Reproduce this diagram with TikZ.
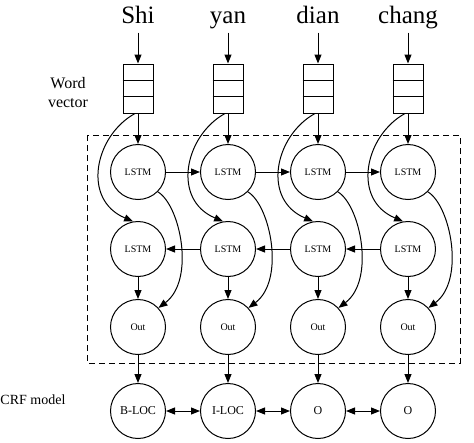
\documentclass[tikz,border=0pt]{standalone}
\usepackage{fontspec}
\setmainfont{Liberation Serif}
\usetikzlibrary{arrows.meta,calc}
\begin{document}
\begin{tikzpicture}[x=1pt,y=-1pt,
  line width=1pt,
  arr/.style={-{Triangle[length=9pt,width=7pt]}},
  darr/.style={{Triangle[length=9pt,width=7pt]}-{Triangle[length=9pt,width=7pt]}},
  wordlbl/.style={font=\fontsize{25}{28}\selectfont, inner sep=0pt, text depth=9pt, anchor=base},
  vecbox/.style={draw, minimum width=30pt, minimum height=49pt, inner sep=0pt},
  cellnode/.style={draw, circle, minimum size=55pt, inner sep=0pt, font=\fontsize{10}{12}\selectfont},
  crfnode/.style={cellnode, font=\fontsize{12}{14}\selectfont},
  sidelbl/.style={font=\fontsize{16}{19}\selectfont, align=center, inner sep=0pt}
]
\useasboundingbox (0,0) rectangle (474,442);
% dashed frame
\draw[dash pattern=on 6pt off 4pt] (87,135) rectangle (460,363);
% side labels
\node[sidelbl] (wv) at (68,93) {Word\\vector};
\node[sidelbl, font=\fontsize{14}{16}\selectfont, anchor=west] (crfl) at (0,400) {CRF model};
\foreach \i/\x/\w in {1/138/Shi,2/228/yan,3/318/dian,4/408/chang}{
  \node[wordlbl] (w\i) at (\x,23) {\w};
  \node[vecbox] (v\i) at (\x,88.5) {};
  \draw ($(v\i.north west)!0.33!(v\i.south west)$) -- ($(v\i.north east)!0.33!(v\i.south east)$);
  \draw ($(v\i.north west)!0.66!(v\i.south west)$) -- ($(v\i.north east)!0.66!(v\i.south east)$);
  \node[cellnode] (a\i) at (\x,172) {LSTM};
  \node[cellnode] (b\i) at (\x,249) {LSTM};
  \node[cellnode] (o\i) at (\x,327) {Out};
  \draw[arr] (w\i.south) -- (v\i.north);
  \draw[arr] (v\i.south) -- (a\i.north);
  \draw[arr] (b\i.south) -- (o\i.north);
  \draw[arr] ([xshift=-3pt]v\i.south) .. controls +(-40,22) and +(-52,-22) .. (b\i.100);
  \draw[arr] (a\i.-45) .. controls +(22.6,13.6) and +(37,-28) .. (o\i.43);
}
\node[crfnode] (c1) at (138,411) {B-LOC};
\node[crfnode] (c2) at (228,411) {I-LOC};
\node[crfnode] (c3) at (318,411) {O};
\node[crfnode] (c4) at (408,411) {O};
\foreach \i in {1,2,3,4}{
  \draw[arr] (o\i.south) -- (c\i.north);
}
\foreach \i/\j in {1/2,2/3,3/4}{
  \draw[arr] (a\i.east) -- (a\j.west);
  \draw[arr] (b\j.west) -- (b\i.east);
  \draw[darr] (c\i.east) -- (c\j.west);
}
\end{tikzpicture}
\end{document}
